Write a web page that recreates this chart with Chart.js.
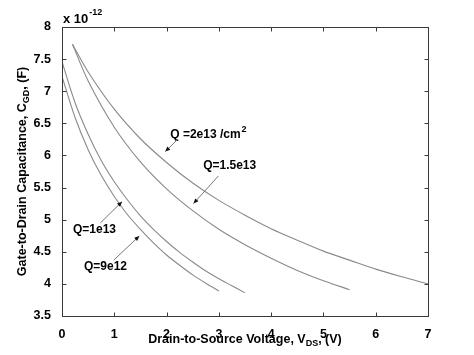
<!DOCTYPE html>
<html><head><meta charset="utf-8">
<script src="https://cdn.jsdelivr.net/npm/chart.js@4.4.1/dist/chart.umd.min.js"></script>
<style>html,body{margin:0;padding:0;background:#fff}</style>
</head><body>
<canvas id="c" width="474" height="355"></canvas>
<script>
// ---- data ----
const xTicks = [0, 1, 2, 3, 4, 5, 6, 7];
const yTicks = [3.5, 4, 4.5, 5, 5.5, 6, 6.5, 7, 7.5, 8];

const v9e12 = [0, 0.25, 0.5, 0.75, 1.0, 1.25, 1.5, 1.75, 2.0, 2.25, 2.5, 2.75, 3.0];
const c9e12 = [7.23, 6.59, 6.09, 5.69, 5.36, 5.08, 4.85, 4.64, 4.45, 4.29, 4.14, 4.01, 3.89];

const v1e13 = [0, 0.25, 0.5, 0.75, 1.0, 1.25, 1.5, 1.75, 2.0, 2.25, 2.5, 2.75, 3.0, 3.25, 3.5];
const c1e13 = [7.46, 6.82, 6.33, 5.92, 5.59, 5.31, 5.06, 4.85, 4.66, 4.49, 4.34, 4.20, 4.08, 3.97, 3.86];

const v15e13 = [0.2, 0.5, 1.0, 1.5, 2.0, 2.5, 3.0, 3.5, 4.0, 4.5, 5.0, 5.5];
const c15e13 = [7.73, 7.16, 6.44, 5.90, 5.48, 5.14, 4.85, 4.61, 4.40, 4.21, 4.05, 3.91];

const v2e13 = [0.2, 0.5, 1.0, 1.5, 2.0, 2.5, 3.0, 3.5, 4.0, 4.5, 5.0, 5.5, 6.0, 6.5, 7.0];
const c2e13 = [7.73, 7.30, 6.72, 6.26, 5.89, 5.57, 5.30, 5.07, 4.86, 4.68, 4.51, 4.37, 4.23, 4.11, 4.00];

// annotations: label anchor (left, middle) and arrow in data units
const notes = [
  {text: 'Q =2e13 /cm', sup: '2', x: 2.07, y: 6.33, ax1: 2.20, ay1: 6.24, ax2: 1.975, ay2: 6.06},
  {text: 'Q=1.5e13', x: 2.70, y: 5.84, ax1: 2.99, ay1: 5.68, ax2: 2.515, ay2: 5.25},
  {text: 'Q=1e13', x: 0.21, y: 4.84, ax1: 0.735, ay1: 4.95, ax2: 1.149, ay2: 5.28},
  {text: 'Q=9e12', x: 0.42, y: 4.27, ax1: 0.989, ay1: 4.37, ax2: 1.479, ay2: 4.745}
];

const FONT = '"Liberation Sans", Arial, Helvetica, sans-serif';
const LINE = '#8a8a8a';
const AXIS = '#3a3a3a';

function pts(xs, ys) { return xs.map((x, i) => ({x: x, y: ys[i]})); }
function ds(xs, ys) {
  return {data: pts(xs, ys), showLine: true, borderColor: LINE, borderWidth: 1.1,
          pointRadius: 0, tension: 0.3, fill: false};
}

function richText(ctx, segs, cx, cy) {
  let w = 0;
  segs.forEach(s => { ctx.font = 'bold ' + s.size + 'px ' + FONT; s.w = ctx.measureText(s.t).width; w += s.w; });
  let x = cx - w / 2;
  ctx.textBaseline = 'middle';
  ctx.textAlign = 'left';
  segs.forEach(s => { ctx.font = 'bold ' + s.size + 'px ' + FONT; ctx.fillText(s.t, x, cy + (s.dy || 0)); x += s.w; });
}

const deco = {
  id: 'deco',
  afterDraw(chart) {
    const ctx = chart.ctx, a = chart.chartArea, sx = chart.scales.x, sy = chart.scales.y;
    ctx.save();
    ctx.strokeStyle = AXIS; ctx.lineWidth = 1;
    const L = Math.round(a.left) + 0.5, R = Math.round(a.right) + 0.5, T = Math.round(a.top) + 0.5, B = Math.round(a.bottom) + 0.5;
    ctx.strokeRect(L, T, R - L, B - T);
    ctx.beginPath();
    xTicks.forEach(v => { const px = Math.round(sx.getPixelForValue(v)) + 0.5; ctx.moveTo(px, B); ctx.lineTo(px, B - 4); ctx.moveTo(px, T); ctx.lineTo(px, T + 4); });
    yTicks.forEach(v => { const py = Math.round(sy.getPixelForValue(v)) + 0.5; ctx.moveTo(L, py); ctx.lineTo(L + 4, py); ctx.moveTo(R, py); ctx.lineTo(R - 4, py); });
    ctx.stroke();

    ctx.fillStyle = '#000';
    ctx.textAlign = 'left'; ctx.textBaseline = 'alphabetic';
    ctx.font = 'bold 13px ' + FONT; ctx.fillText('x 10', a.left + 1, 23);
    const w10 = ctx.measureText('x 10').width;
    ctx.font = 'bold 9px ' + FONT; ctx.fillText('-12', a.left + 2 + w10, 15);

    richText(ctx, [{t: 'Drain-to-Source Voltage, V', size: 12.5}, {t: 'DS', size: 9, dy: 4}, {t: ', (V)', size: 12.5}],
             (a.left + a.right) / 2, 340);
    ctx.save();
    ctx.translate(23, (a.top + a.bottom) / 2);
    ctx.rotate(-Math.PI / 2);
    richText(ctx, [{t: 'Gate-to-Drain Capacitance, C', size: 12.5}, {t: 'GD', size: 9, dy: 4}, {t: ', (F)', size: 12.5}], 0, 0);
    ctx.restore();

    notes.forEach(n => {
      const x = sx.getPixelForValue(n.x), y = sy.getPixelForValue(n.y);
      ctx.font = 'bold 12px ' + FONT; ctx.textAlign = 'left'; ctx.textBaseline = 'middle';
      ctx.fillStyle = '#000';
      ctx.fillText(n.text, x, y);
      if (n.sup) {
        const w = ctx.measureText(n.text).width;
        ctx.font = 'bold 9px ' + FONT; ctx.fillText(n.sup, x + w + 1, y - 5);
      }
      const x1 = sx.getPixelForValue(n.ax1), y1 = sy.getPixelForValue(n.ay1);
      const x2 = sx.getPixelForValue(n.ax2), y2 = sy.getPixelForValue(n.ay2);
      ctx.strokeStyle = '#777'; ctx.lineWidth = 1;
      ctx.beginPath(); ctx.moveTo(x1, y1); ctx.lineTo(x2, y2); ctx.stroke();
      const ang = Math.atan2(y2 - y1, x2 - x1), hl = 5, hw = 2.2;
      ctx.fillStyle = '#111';
      ctx.beginPath();
      ctx.moveTo(x2, y2);
      ctx.lineTo(x2 - hl * Math.cos(ang) + hw * Math.sin(ang), y2 - hl * Math.sin(ang) - hw * Math.cos(ang));
      ctx.lineTo(x2 - hl * Math.cos(ang) - hw * Math.sin(ang), y2 - hl * Math.sin(ang) + hw * Math.cos(ang));
      ctx.closePath(); ctx.fill();
    });
    ctx.restore();
  }
};

new Chart(document.getElementById('c'), {
  type: 'scatter',
  data: {datasets: [ds(v9e12, c9e12), ds(v1e13, c1e13), ds(v15e13, c15e13), ds(v2e13, c2e13)]},
  options: {
    responsive: false, animation: false, devicePixelRatio: 1,
    layout: {padding: {left: 22, right: 46, top: 27, bottom: 0}},
    plugins: {legend: {display: false}, tooltip: {enabled: false}},
    scales: {
      x: {type: 'linear', min: 0, max: 7,
          afterBuildTicks: s => { s.ticks = xTicks.map(v => ({value: v})); },
          ticks: {color: '#000', font: {family: FONT, size: 12.5, weight: 'bold'}, padding: 3, maxRotation: 0,
                  callback: v => String(v)},
          grid: {display: false}, border: {display: false},
          afterFit: s => { s.height = 39; }},
      y: {type: 'linear', min: 3.5, max: 8,
          afterBuildTicks: s => { s.ticks = yTicks.map(v => ({value: v})); },
          ticks: {color: '#000', font: {family: FONT, size: 12.5, weight: 'bold'}, padding: 3,
                  callback: v => String(v)},
          grid: {display: false}, border: {display: false},
          afterFit: s => { s.width = 40; }}
    }
  },
  plugins: [deco]
});
</script>
</body></html>
